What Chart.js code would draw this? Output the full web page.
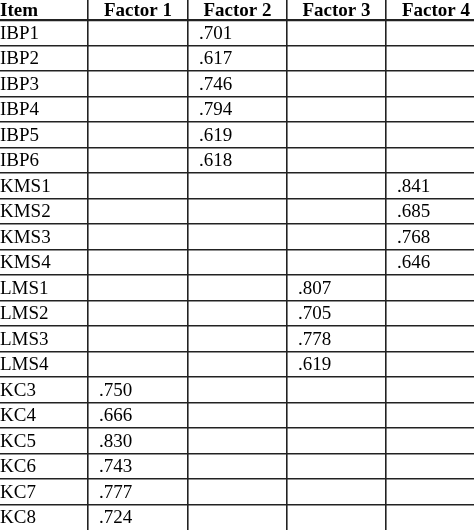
<!DOCTYPE html>
<html>
<head>
<meta charset="utf-8">
<script src="https://cdn.jsdelivr.net/npm/chart.js@4/dist/chart.umd.min.js"></script>
<style>
  html, body { margin: 0; padding: 0; background: #fff; }
  #wrap { width: 474px; height: 530px; }
</style>
</head>
<body>
<div id="wrap"><canvas id="table"></canvas></div>
<script>
const headers = ["Item", "Factor 1", "Factor 2", "Factor 3", "Factor 4"];
const items = ["IBP1", "IBP2", "IBP3", "IBP4", "IBP5", "IBP6", "KMS1", "KMS2", "KMS3", "KMS4",
  "LMS1", "LMS2", "LMS3", "LMS4", "KC3", "KC4", "KC5", "KC6", "KC7", "KC8"];
const factor1 = [null, null, null, null, null, null, null, null, null, null,
  null, null, null, null, ".750", ".666", ".830", ".743", ".777", ".724"];
const factor2 = [".701", ".617", ".746", ".794", ".619", ".618", null, null, null, null,
  null, null, null, null, null, null, null, null, null, null];
const factor3 = [null, null, null, null, null, null, null, null, null, null,
  ".807", ".705", ".778", ".619", null, null, null, null, null, null];
const factor4 = [null, null, null, null, null, null, ".841", ".685", ".768", ".646",
  null, null, null, null, null, null, null, null, null, null];

const columns = [items, factor1, factor2, factor3, factor4];
const colEdges = [0, 88, 188, 287, 386, 486];

const cellText = {
  id: "cellText",
  afterDraw(chart) {
    const { ctx, scales: { x, y } } = chart;
    ctx.save();
    ctx.fillStyle = "#000";
    ctx.textBaseline = "middle";
    // header
    ctx.font = "bold 19px 'Liberation Serif', serif";
    headers.forEach((h, c) => {
      const yMid = (y.getPixelForValue(y.min) + y.getPixelForValue(0)) / 2 + 1;
      if (c === 0) {
        ctx.textAlign = "left";
        ctx.fillText(h, x.getPixelForValue(colEdges[0]), yMid);
      } else {
        ctx.textAlign = "center";
        ctx.fillText(h, (x.getPixelForValue(colEdges[c]) + x.getPixelForValue(colEdges[c + 1])) / 2, yMid);
      }
    });
    // body
    ctx.font = "19px 'Liberation Serif', serif";
    ctx.textAlign = "left";
    columns.forEach((col, c) => {
      col.forEach((v, r) => {
        if (v === null) return;
        const yMid = y.getPixelForValue(r + 0.5) + 1;
        const pad = c === 0 ? 0 : 11;
        ctx.fillText(v, x.getPixelForValue(colEdges[c]) + pad, yMid);
      });
    });
    ctx.restore();
  }
};

new Chart(document.getElementById("table"), {
  type: "scatter",
  data: { datasets: [{ data: [], pointRadius: 0 }] },
  options: {
    responsive: true,
    maintainAspectRatio: false,
    animation: false,
    layout: { padding: 0 },
    plugins: { legend: { display: false }, tooltip: { enabled: false } },
    scales: {
      x: {
        type: "linear", min: 0, max: 474,
        afterBuildTicks: (s) => { s.ticks = colEdges.slice(1, 5).map((v) => ({ value: v })); },
        ticks: { display: false },
        border: { display: false },
        grid: { color: "#222", lineWidth: 1.6, drawTicks: false }
      },
      y: {
        type: "linear", min: -0.784, max: 20, reverse: true,
        afterBuildTicks: (s) => { s.ticks = items.slice(0, 20).map((_, i) => ({ value: i })); },
        ticks: { display: false },
        border: { display: false },
        grid: {
          color: "#222", drawTicks: false,
          lineWidth: (c) => (c.tick && c.tick.value === 0 ? 2.2 : 1.6)
        }
      }
    }
  },
  plugins: [cellText]
});
</script>
</body>
</html>
